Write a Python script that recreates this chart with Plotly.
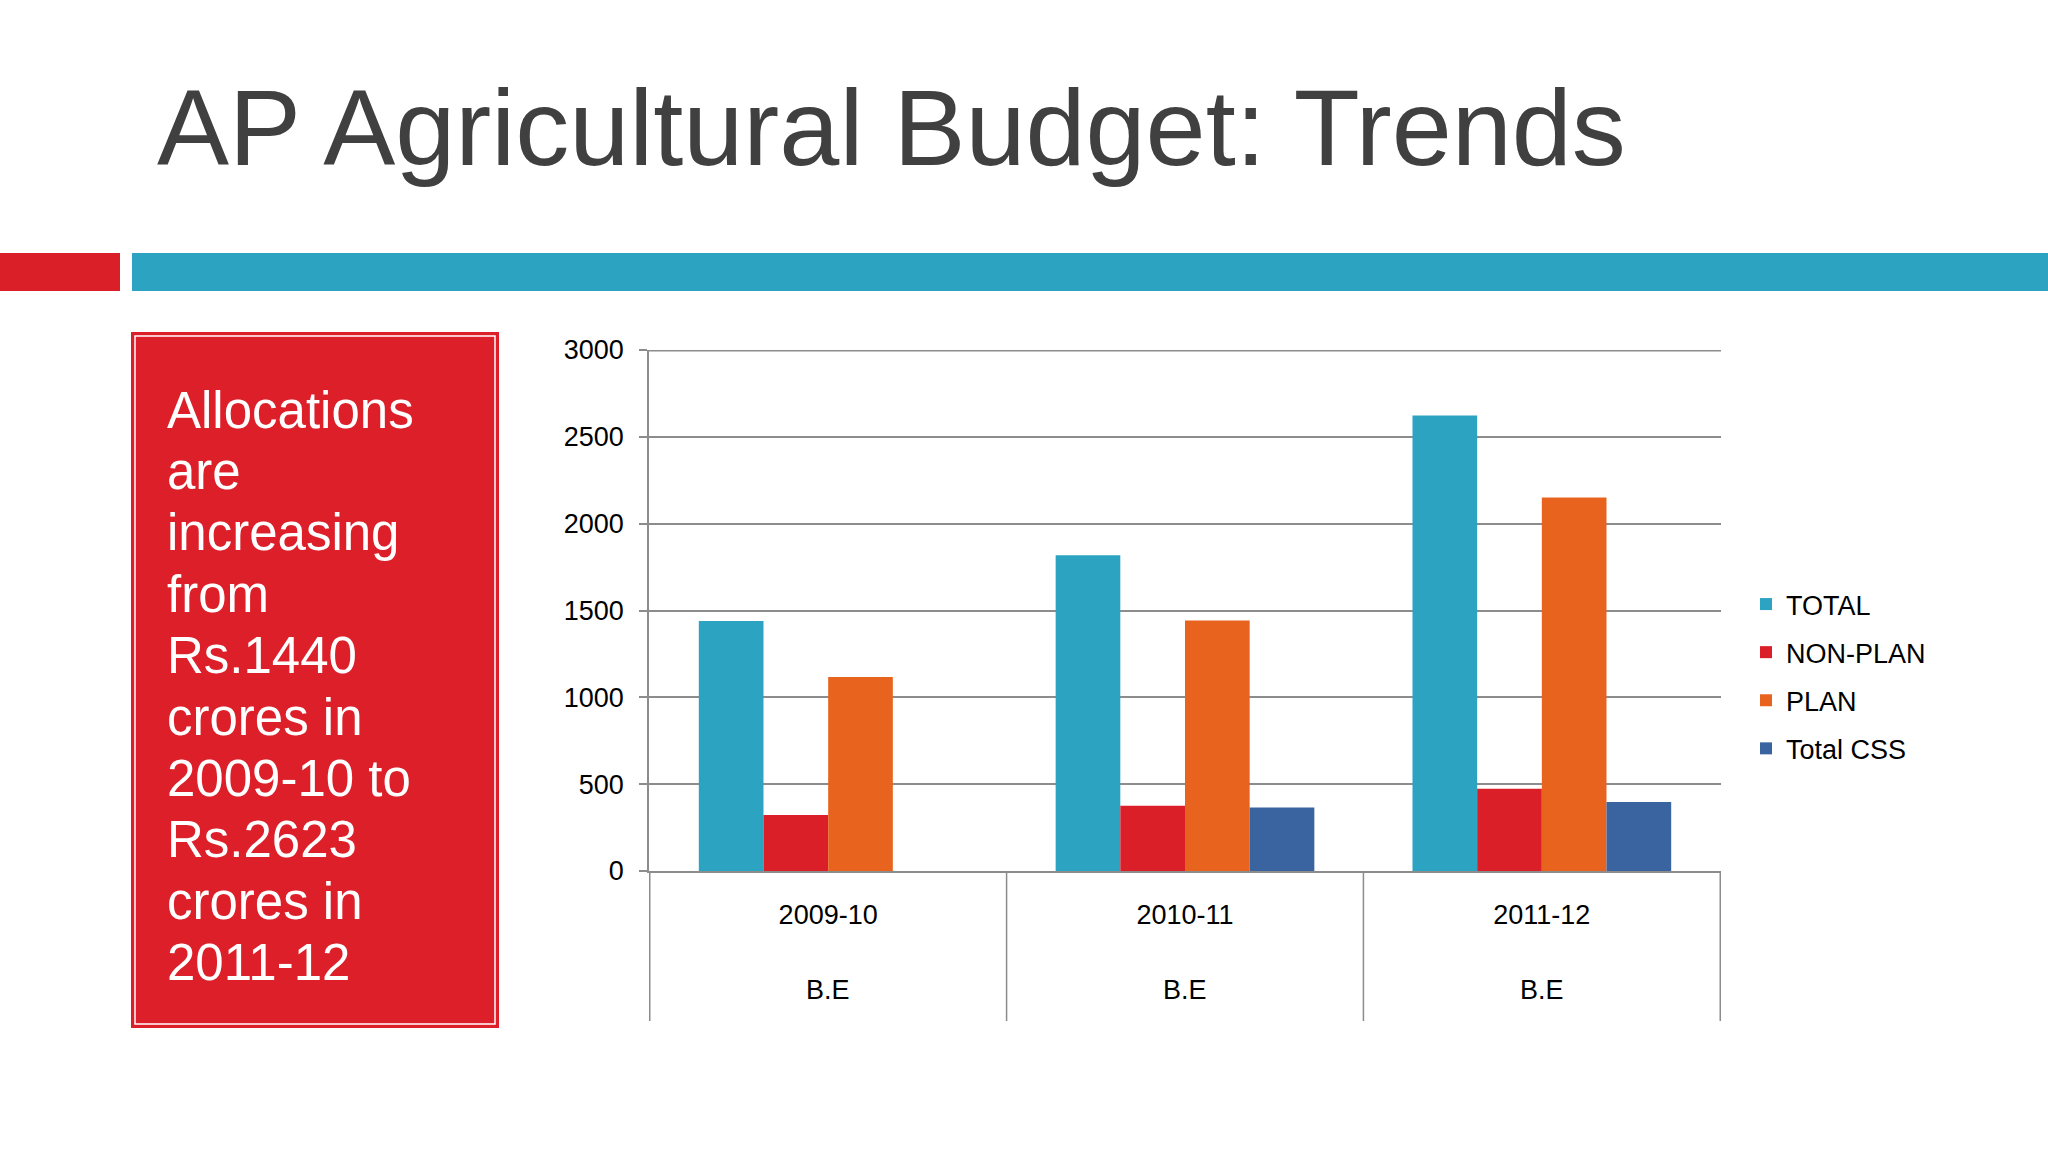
import plotly.graph_objects as go

# ---------------- data ----------------
categories = ["2009-10", "2010-11", "2011-12"]
sub_labels = ["B.E", "B.E", "B.E"]
total = [1440, 1818, 2623]
non_plan = [323, 376, 473]
plan = [1117, 1442, 2150]
total_css = [None, 366, 397]
series_names = ["TOTAL", "NON-PLAN", "PLAN", "Total CSS"]
series_values = [total, non_plan, plan, total_css]
series_colors = ["#2CA3C1", "#DA1F28", "#E8641E", "#3A64A0"]
y_ticks = [0, 500, 1000, 1500, 2000, 2500, 3000]
title_text = "AP Agricultural Budget: Trends"
box_lines = ["Allocations", "are", "increasing", "from", "Rs.1440",
             "crores in", "2009-10 to", "Rs.2623", "crores in", "2011-12"]

# ---------------- layout helpers (pixel -> paper) ----------------
W_FIG, H_FIG = 2048, 1152
L, R, T, B = 649, 1721, 350, 871
PW, PH = R - L, B - T


def px(x):
    return (x - L) / PW


def py(y):
    return (B - y) / PH


FONT = "Liberation Sans, Arial, sans-serif"
GRID = "#8C8C8C"

fig = go.Figure()
for name, vals, col in zip(series_names, series_values, series_colors):
    fig.add_trace(go.Bar(name=name, x=categories, y=vals, marker_color=col,
                         marker_line_width=0, legendgroup=name))

shapes = []
# top stripes
shapes.append(dict(type="rect", xref="paper", yref="paper", x0=px(0), x1=px(120),
                   y0=py(291), y1=py(253), fillcolor="#DA1F28", line_width=0, layer="below"))
shapes.append(dict(type="rect", xref="paper", yref="paper", x0=px(132), x1=px(2048),
                   y0=py(291), y1=py(253), fillcolor="#2CA3C1", line_width=0, layer="below"))
# red text box with inner white border
shapes.append(dict(type="rect", xref="paper", yref="paper", x0=px(131), x1=px(499),
                   y0=py(1028), y1=py(332), fillcolor="#DC1F29", line_width=0, layer="below"))
shapes.append(dict(type="rect", xref="paper", yref="paper", x0=px(135), x1=px(495),
                   y0=py(1024), y1=py(336), fillcolor="rgba(0,0,0,0)",
                   line=dict(color="white", width=1.5), layer="below"))
# top gridline (at the axis range edge; half of it is clipped by the plot area)
shapes.append(dict(type="line", xref="paper", yref="y", x0=0, x1=1,
                   y0=max(y_ticks), y1=max(y_ticks), line=dict(color=GRID, width=3),
                   layer="below"))
# category divider lines below the axis
for i in range(len(categories) + 1):
    shapes.append(dict(type="line", xref="x", yref="paper", x0=i - 0.5, x1=i - 0.5,
                       y0=0, y1=py(1021), line=dict(color=GRID, width=1.5)))

annotations = []
annotations.append(dict(text=title_text, xref="paper", yref="paper", x=px(155), y=py(128),
                        xanchor="left", yanchor="middle", showarrow=False,
                        font=dict(family=FONT, size=108, color="#404040")))
for i, line in enumerate(box_lines):
    annotations.append(dict(text=line, xref="paper", yref="paper", x=px(165),
                            y=py(410 + i * 61.4), xanchor="left", yanchor="middle",
                            showarrow=False, font=dict(family=FONT, size=51, color="white")))
for cat, sub in zip(categories, sub_labels):
    annotations.append(dict(text=sub, xref="x", yref="paper", x=cat, y=py(990),
                            xanchor="center", yanchor="middle", showarrow=False,
                            font=dict(family=FONT, size=27, color="#000000")))

fig.update_layout(
    width=W_FIG, height=H_FIG,
    margin=dict(l=L, r=W_FIG - R, t=T, b=H_FIG - B, pad=0),
    paper_bgcolor="white", plot_bgcolor="white",
    barmode="group", bargap=0.275, bargroupgap=0,
    font=dict(family=FONT, size=27, color="#000000"),
    showlegend=True,
    legend=dict(x=px(1746), y=py(580), xanchor="left", yanchor="top",
                font=dict(family=FONT, size=27, color="#000000"),
                tracegroupgap=10, bgcolor="rgba(0,0,0,0)", itemwidth=30),
    shapes=shapes, annotations=annotations,
)
fig.update_yaxes(range=[0, 3000], tickvals=y_ticks, showgrid=True, gridcolor=GRID,
                 gridwidth=1.5, showline=True, linecolor=GRID, linewidth=1.5,
                 ticks="outside", ticklen=8, tickcolor=GRID, tickwidth=1.5,
                 ticklabelstandoff=10, zeroline=False,
                 tickfont=dict(family=FONT, size=27, color="#000000"))
fig.update_xaxes(type="category", showline=True, linecolor=GRID, linewidth=1.5, ticks="",
                 ticklabelstandoff=19, showgrid=False,
                 tickfont=dict(family=FONT, size=27, color="#000000"))

fig.write_html("out.html")
